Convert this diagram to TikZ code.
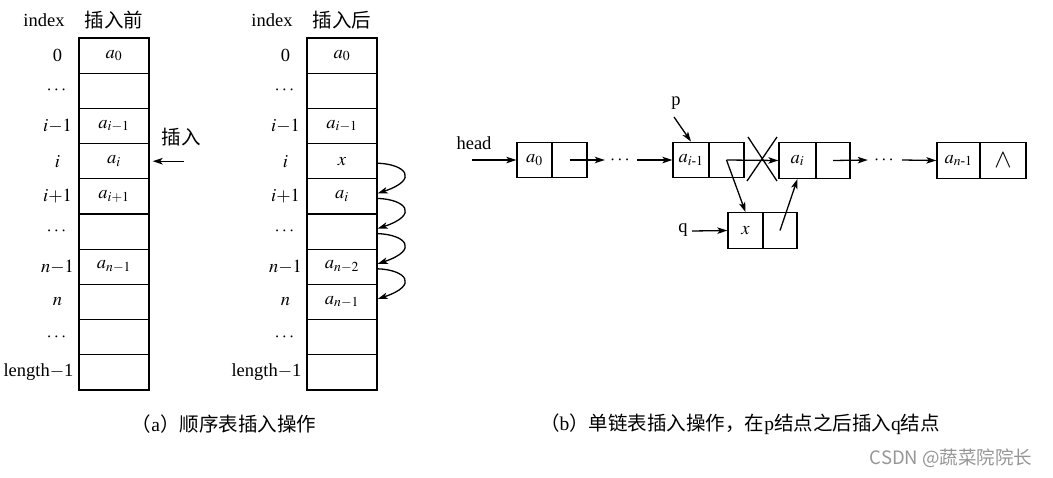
\documentclass[tikz,border=0pt]{standalone}
\usepackage{amsmath}
\usepackage{mathptmx}
\usepackage{fontspec}
\setmainfont{Liberation Serif}
\newfontfamily\cjk{Noto Sans CJK SC}
\usetikzlibrary{arrows.meta,calc}
\definecolor{wmgray}{RGB}{150,150,150}
\begin{document}
\begin{tikzpicture}[x=1pt,y=-1pt,font=\fontsize{18.5}{20}\selectfont,
  ln/.style={line width=1.3pt},
  arr/.style={ln,-{Stealth[length=10pt,width=6.5pt,inset=2.5pt]}},
  cell/.style={draw,ln,minimum width=70pt,minimum height=35.2pt,inner sep=0pt},
  lcell/.style={draw,ln,minimum height=35.5pt,inner sep=0pt},
  idx/.style={inner sep=0pt},
  cjkt/.style={font=\cjk\fontsize{19.5}{22}\selectfont,inner sep=0pt},
  dotsn/.style={inner sep=0pt,minimum height=10pt}]
\useasboundingbox (0,0) rectangle (1053,477);

% ---------- (a) left array ----------
\node[cjkt] (hL) at (114,20) {插入前};
\node[idx] (iL) at (44,20) {index};
\node[cell] (L0) at (114,55.6) {$a_0$};
\node[cell] (L1) at (114,90.8) {};
\node[cell] (L2) at (114,126.0) {$a_{i-1}$};
\node[cell] (L3) at (114,161.2) {$a_i$};
\node[cell] (L4) at (114,196.4) {$a_{i+1}$};
\node[cell] (L5) at (114,231.6) {};
\node[cell] (L6) at (114,266.8) {$a_{n-1}$};
\node[cell] (L7) at (114,302.0) {};
\node[cell] (L8) at (114,337.2) {};
\node[cell] (L9) at (114,372.4) {};
\node[idx] (lL0) at (57.5,55.6) {0};
\node[idx] (lL1) at (57.5,90.8) {$\cdots$};
\node[idx] (lL2) at (57.5,126.0) {$i{-}1$};
\node[idx] (lL3) at (57.5,161.2) {$i$};
\node[idx] (lL4) at (57.5,196.4) {$i{+}1$};
\node[idx] (lL5) at (57.5,231.6) {$\cdots$};
\node[idx] (lL6) at (57.5,266.8) {$n{-}1$};
\node[idx] (lL7) at (57.5,302.0) {$n$};
\node[idx] (lL8) at (57.5,337.2) {$\cdots$};
\node[idx] (lL9) at (38.5,372.4) {length$-$1};
\node[cjkt] (ins) at (181,137) {插入};
\coordinate (insS) at (184,161.2);
\draw[arr,shorten >=3pt] (insS) -- (L3.east);

% ---------- (a) right array ----------
\node[cjkt] (hR) at (342,20) {插入后};
\node[idx] (iR) at (272,20) {index};
\node[cell] (R0) at (342,55.6) {$a_0$};
\node[cell] (R1) at (342,90.8) {};
\node[cell] (R2) at (342,126.0) {$a_{i-1}$};
\node[cell] (R3) at (342,161.2) {$x$};
\node[cell] (R4) at (342,196.4) {$a_i$};
\node[cell] (R5) at (342,231.6) {};
\node[cell] (R6) at (342,266.8) {$a_{n-2}$};
\node[cell] (R7) at (342,302.0) {$a_{n-1}$};
\node[cell] (R8) at (342,337.2) {};
\node[cell] (R9) at (342,372.4) {};
\node[idx] (lR0) at (285.5,55.6) {0};
\node[idx] (lR1) at (285.5,90.8) {$\cdots$};
\node[idx] (lR2) at (285.5,126.0) {$i{-}1$};
\node[idx] (lR3) at (285.5,161.2) {$i$};
\node[idx] (lR4) at (285.5,196.4) {$i{+}1$};
\node[idx] (lR5) at (285.5,231.6) {$\cdots$};
\node[idx] (lR6) at (285.5,266.8) {$n{-}1$};
\node[idx] (lR7) at (285.5,302.0) {$n$};
\node[idx] (lR8) at (285.5,337.2) {$\cdots$};
\node[idx] (lR9) at (266.5,372.4) {length$-$1};
\foreach \a/\b in {R3/R4,R4/R5,R5/R6,R6/R7}{
  \draw[arr] ($(\a.east)+(0,2)$) .. controls +(28,1) and +(42,-14) .. ($(\b.east)+(0,-3)$);
}

% ---------- (b) linked list ----------
\node[idx] (head) at (474,143) {head};
\coordinate (headS) at (472,160);
\node[lcell,minimum width=35pt] (A0d) at (534.5,160) {$a_0$};
\node[lcell,minimum width=35pt] (A0p) at (569.5,160) {};
\node[dotsn,minimum width=32pt] (d1) at (621,160) {$\cdots$};
\node[lcell,minimum width=36pt] (Aid) at (691,160) {$a_{i\text{-}1}$};
\node[lcell,minimum width=35pt] (Aip) at (726.5,160) {};
\node[lcell,minimum width=37pt] (Bd) at (797.5,160.5) {$a_i$};
\node[lcell,minimum width=34pt] (Bp) at (833,160.5) {};
\node[dotsn,minimum width=34pt] (d2) at (885,160) {$\cdots$};
\node[lcell,minimum width=43pt] (Nd) at (958.5,160.5) {$a_{n\text{-}1}$};
\node[lcell,minimum width=46pt] (Np) at (1003,160.5) {\fontsize{26}{26}\selectfont$\wedge$};
\node[lcell,minimum width=35pt] (Xd) at (745.5,230.5) {$x$};
\node[lcell,minimum width=34pt] (Xp) at (780,230.5) {};
\node[idx] (p) at (676,103) {p};
\node[idx] (q) at (683,230) {q};
\coordinate (pS) at (674,117);
\coordinate (qS) at (692,231);

\draw[arr] (headS) -- (A0d.west);
\draw[arr] (A0p.center) -- (d1.west);
\draw[arr] (d1.east) -- (Aid.west);
\draw[arr] (pS) -- (Aid.north);
\draw[arr] (Aip.center) -- (Bd.west);
\draw[arr] (Aip.center) -- (Xd.north);
\draw[ln] (748,137) -- (777,181);
\draw[ln] (777,137) -- (747,181);
\draw[arr] (qS) -- (Xd.west);
\draw[arr] (Xp.center) -- (Bd.south);
\draw[arr] (Bp.center) -- (d2.west);
\draw[arr] (d2.east) -- (Nd.west);

% ---------- captions ----------
\node[cjkt] (capA) at (224,424) {（\rmfamily a\cjk）顺序表插入操作};
\node[cjkt] (capB) at (740,424) {（\rmfamily b\cjk）单链表插入操作，在\rmfamily p\cjk 结点之后插入\rmfamily q\cjk 结点};
\node[inner sep=0pt,text=wmgray,font=\cjk\fontsize{18.5}{20}\selectfont] (wm) at (951,458) {CSDN @蔬菜院院长};
\end{tikzpicture}
\end{document}
